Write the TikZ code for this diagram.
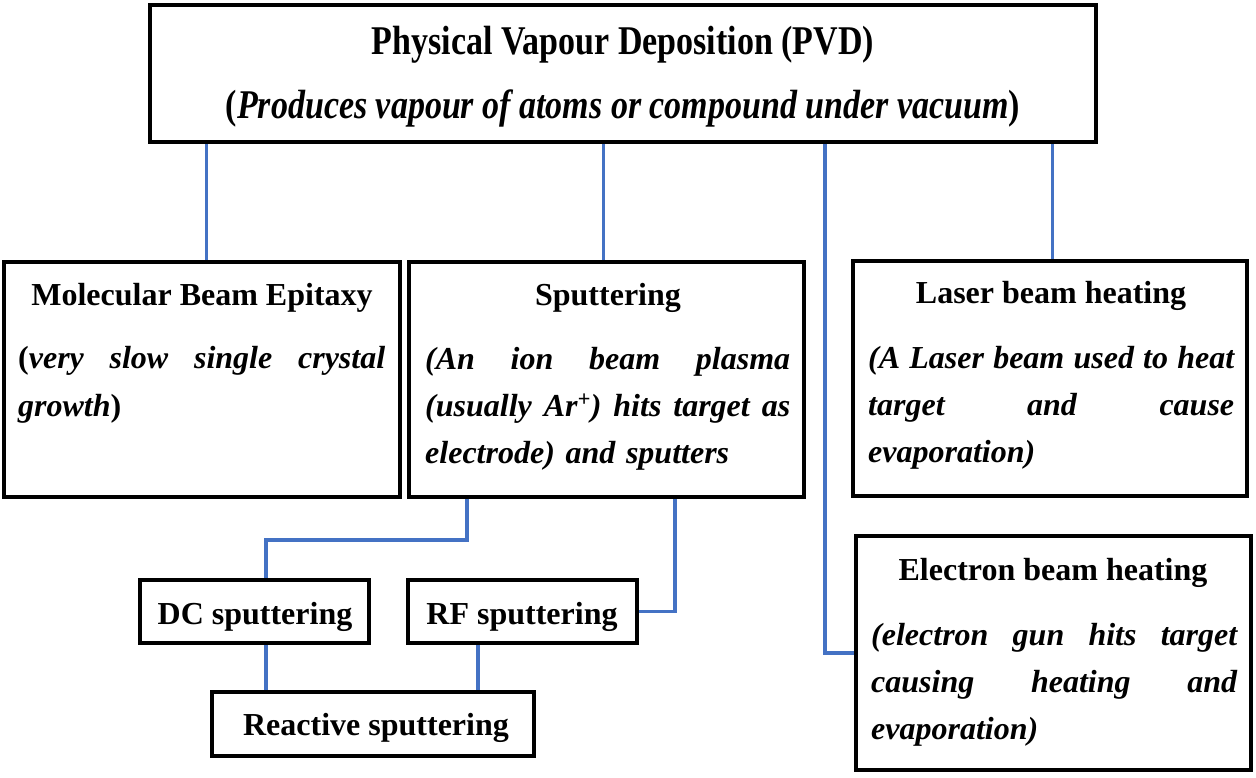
\documentclass[tikz,border=0pt]{standalone}
\usepackage{fontspec}
\setmainfont{Liberation Serif}
\usepackage{graphicx}
\usetikzlibrary{backgrounds}
\definecolor{lnblue}{HTML}{4472C4}
\newcommand{\fullline}[1]{\noindent\hbox to\hsize{#1}\par}
\newcommand{\lastline}[1]{\noindent #1\par}
\tikzset{
  box/.style={draw=black, line width=3.6pt, fill=white, inner sep=0pt, outer sep=0pt},
  ttl/.style={font=\fontsize{32}{38}\selectfont\bfseries, inner sep=0pt, anchor=base},
  bigttl/.style={font=\fontsize{34}{40}\selectfont\bfseries, inner sep=0pt, anchor=base},
  desc/.style={font=\fontsize{32}{#1}\selectfont\bfseries\itshape, inner sep=0pt, anchor=base west, align=left},
  link/.style={draw=lnblue, line width=3.6pt},
  toplink/.style={draw=lnblue, line width=3pt},
}
\begin{document}
\begin{tikzpicture}[x=1pt,y=-1pt]
\useasboundingbox (0,0) rectangle (1256,777);
% boxes
\node[box, minimum width=946pt, minimum height=137pt] (pvd) at (623,73.5) {};
\node[box, minimum width=396pt, minimum height=235pt] (mbe) at (202,379.5) {};
\node[box, minimum width=395pt, minimum height=235pt] (sput) at (606.5,379.5) {};
\node[box, minimum width=394pt, minimum height=235pt] (laser) at (1050,378.5) {};
\node[box, minimum width=395pt, minimum height=234pt] (elec) at (1053.5,653) {};
\node[box, minimum width=229pt, minimum height=63pt] (dc) at (254.5,611.5) {};
\node[box, minimum width=229pt, minimum height=63pt] (rf) at (522.5,611.5) {};
\node[box, minimum width=322pt, minimum height=64pt] (react) at (373,724) {};
% texts
\node[bigttl] (pvdt) at (623,54) {\scalebox{1}[1.2]{Physical Vapour Deposition (PVD)}};
\node[bigttl] (pvds) at (623,118) {\scalebox{1}[1.2]{(\textit{Produces vapour of atoms or compound under vacuum})}};
\node[ttl] (mbet) at (202,305) {Molecular Beam Epitaxy};
\node[desc=48, text width=367pt] (mbed) at (18,368)
  {\fullline{\textup{(}very\hfill slow\hfill single\hfill crystal}\lastline{growth\textup{)}}};
\node[ttl] (sputt) at (608,305) {Sputtering};
\node[desc=47, text width=365pt] (sputd) at (425,369)
  {\fullline{(An\hfill ion\hfill beam\hfill plasma}\fullline{(usually\hfill Ar\textsuperscript{+})\hfill hits\hfill target\hfill as}\lastline{electrode) and sputters}};
\node[ttl] (lasert) at (1051,303) {Laser beam heating};
\node[desc=47, text width=366pt] (laserd) at (868,368)
  {\fullline{(A\hfill Laser\hfill beam\hfill used\hfill to\hfill heat}\fullline{target\hfill and\hfill cause}\lastline{evaporation)}};
\node[ttl] (elect) at (1053,580) {Electron beam heating};
\node[desc=47, text width=366pt] (elecd) at (871,645)
  {\fullline{(electron\hfill gun\hfill hits\hfill target}\fullline{causing\hfill heating\hfill and}\lastline{evaporation)}};
\node[ttl] (dct) at (255,624) {DC sputtering};
\node[ttl] (rft) at (522,624) {RF sputtering};
\node[ttl] (reactt) at (376,735) {Reactive sputtering};
% connector x positions
\coordinate (xa) at (206,0);
\coordinate (xb) at (603,0);
\coordinate (xc) at (825,0);
\coordinate (xd) at (1052,0);
\coordinate (xe) at (467,0);
\coordinate (xf) at (675,0);
\coordinate (xg) at (266,0);
\coordinate (xh) at (478,0);
\coordinate (ye) at (0,540);
\begin{scope}[on background layer]
\draw[toplink] (pvd.south -| xa) -- (mbe.north -| xa);
\draw[toplink] (pvd.south -| xb) -- (sput.north -| xb);
\draw[toplink] (pvd.south -| xd) -- (laser.north -| xd);
\draw[link] (pvd.south -| xc) |- (elec.west);
\draw[link] (sput.south -| xe) -- (xe |- ye) -| (dc.north -| xg);
\draw[link] (sput.south -| xf) |- (rf.east);
\draw[link] (dc.south -| xg) -- (react.north -| xg);
\draw[link] (rf.south -| xh) -- (react.north -| xh);
\end{scope}
\end{tikzpicture}
\end{document}
